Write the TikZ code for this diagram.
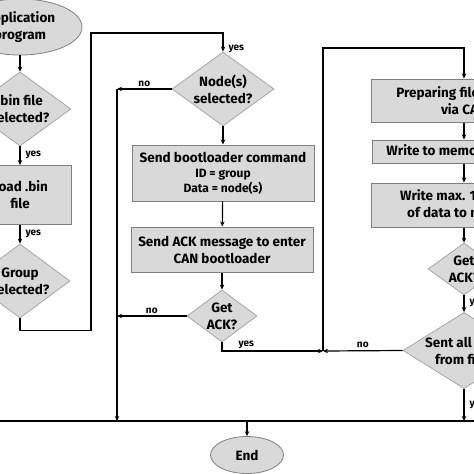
\documentclass[tikz,border=0pt]{standalone}
\usepackage{fontspec}
\setmainfont{Fira Sans}
\usetikzlibrary{shapes.geometric,arrows.meta}

\tikzset{
  txt/.style={font=\bfseries\fontsize{13.5}{17}\selectfont, align=center},
  proc/.style={txt, rectangle, draw=gray, fill=gray!30, line width=1pt, inner sep=0pt},
  decide/.style={txt, diamond, draw=gray!70, fill=gray!30, line width=0.8pt, inner sep=0pt, aspect=1.4},
  term/.style={txt, ellipse, draw=gray, fill=gray!30, line width=0.8pt, inner sep=0pt},
  arr/.style={-{Stealth[length=5pt,width=4.5pt]}, line width=1.2pt},
  wire/.style={line width=1.2pt},
  lbl/.style={font=\bfseries\fontsize{10}{12}\selectfont, inner sep=1pt}
}
\newcommand{\subline}[1]{{\fontsize{12}{15}\selectfont #1}}

\begin{document}
\begin{tikzpicture}[x=1pt,y=-1pt]
  \useasboundingbox (0,0) rectangle (474,474);
  \clip (0,0) rectangle (474,474);

  % left column
  \node[term, minimum width=124, minimum height=56] (app) at (20,27) {Application\\program};
  \node[decide, minimum width=102, minimum height=74] (binsel) at (20,109) {.bin file\\selected?};
  \node[proc, minimum width=102, minimum height=59] (load) at (20,195) {Load .bin\\file};
  \node[decide, minimum width=100, minimum height=74] (grpsel) at (20,281) {Group\\selected?};

  % middle column
  \node[decide, minimum width=102, minimum height=74] (nodesel) at (223,89) {Node(s)\\selected?};
  \node[proc, minimum width=182, minimum height=56] (sendcmd) at (223,173)
    {Send bootloader command\\[-2pt]\subline{ID = group}\\[-2pt]\subline{Data = node(s)}};
  \node[proc, minimum width=182, minimum height=45] (sendack) at (222,249.5) {Send ACK message to enter\\CAN bootloader};
  \node[decide, minimum width=70, minimum height=50, aspect=1.2] (getack) at (222,316) {Get\\ACK?};

  % right column
  \node[proc, minimum width=186, minimum height=43] (prep) at (464,100.5) {Preparing file transfer\\via CAN};
  \node[proc, minimum width=184, minimum height=23] (wmem) at (464,151.5) {Write to memory address};
  \node[proc, minimum width=186, minimum height=44] (wmax) at (464,205) {Write max. 128 bytes\\of data to memory};
  \node[decide, minimum width=72, minimum height=48, aspect=1.2] (getackb) at (464,269) {Get\\ACK?};
  \node[decide, minimum width=122, minimum height=76, aspect=1.6] (sentall) at (464,350.5) {Sent all data\\from file?};

  \node[term, minimum width=73, minimum height=37] (end) at (247,455) {End};

  % helper points
  \coordinate (uplft) at (91,33);
  \coordinate (nocorner) at (117,89);
  \coordinate (join) at (323,351);
  \coordinate (looptop) at (323,48);
  \coordinate (busl) at (-40,421);
  \coordinate (busr) at (560,421);

  % connectors
  \draw[arr] (app) -- (binsel);
  \draw[arr] (binsel) -- (load) node[lbl, pos=0.45, right=4pt] {yes};
  \draw[arr] (load) -- (grpsel) node[lbl, pos=0.45, right=4pt] {yes};
  \draw[arr] (grpsel.south) -- ++(0,12) -| (uplft) -| (nodesel.north)
    node[lbl, pos=0.93, right=4pt] {yes};

  \draw[arr] (nodesel) -- (sendcmd);
  \draw[arr] (sendcmd) -- (sendack);
  \draw[arr] (sendack) -- (getack);
  \draw[arr] (nodesel.west) -- (nocorner) node[lbl, pos=0.5, above=1pt] {no};
  \draw[arr] (nocorner) -- (nocorner |- busl);
  \draw[arr] (getack.west) -- (getack.west -| nocorner) node[lbl, pos=0.5, above=1pt] {no};
  \draw[arr] (getack.south) |- (join) node[lbl, pos=0.62, above=1pt] {yes};

  \draw[arr] (join) -- (looptop) -| (prep.north);
  \draw[arr] (prep) -- (wmem);
  \draw[arr] (wmem) -- (wmax);
  \draw[arr] (wmax) -- (getackb);
  \draw[arr] (getackb) -- (sentall) node[lbl, pos=0.45, right=4pt] {yes};
  \draw[arr] (sentall.west) -- (join) node[lbl, pos=0.5, above=1pt] {no};
  \draw[arr] (sentall.south) -- (sentall.south |- busl) node[lbl, pos=0.5, right=4pt] {yes};

  \draw[wire] (busl) -- (busr); % bottom bus
  \draw[arr] (end.north |- busl) -- (end.north);
\end{tikzpicture}
\end{document}
